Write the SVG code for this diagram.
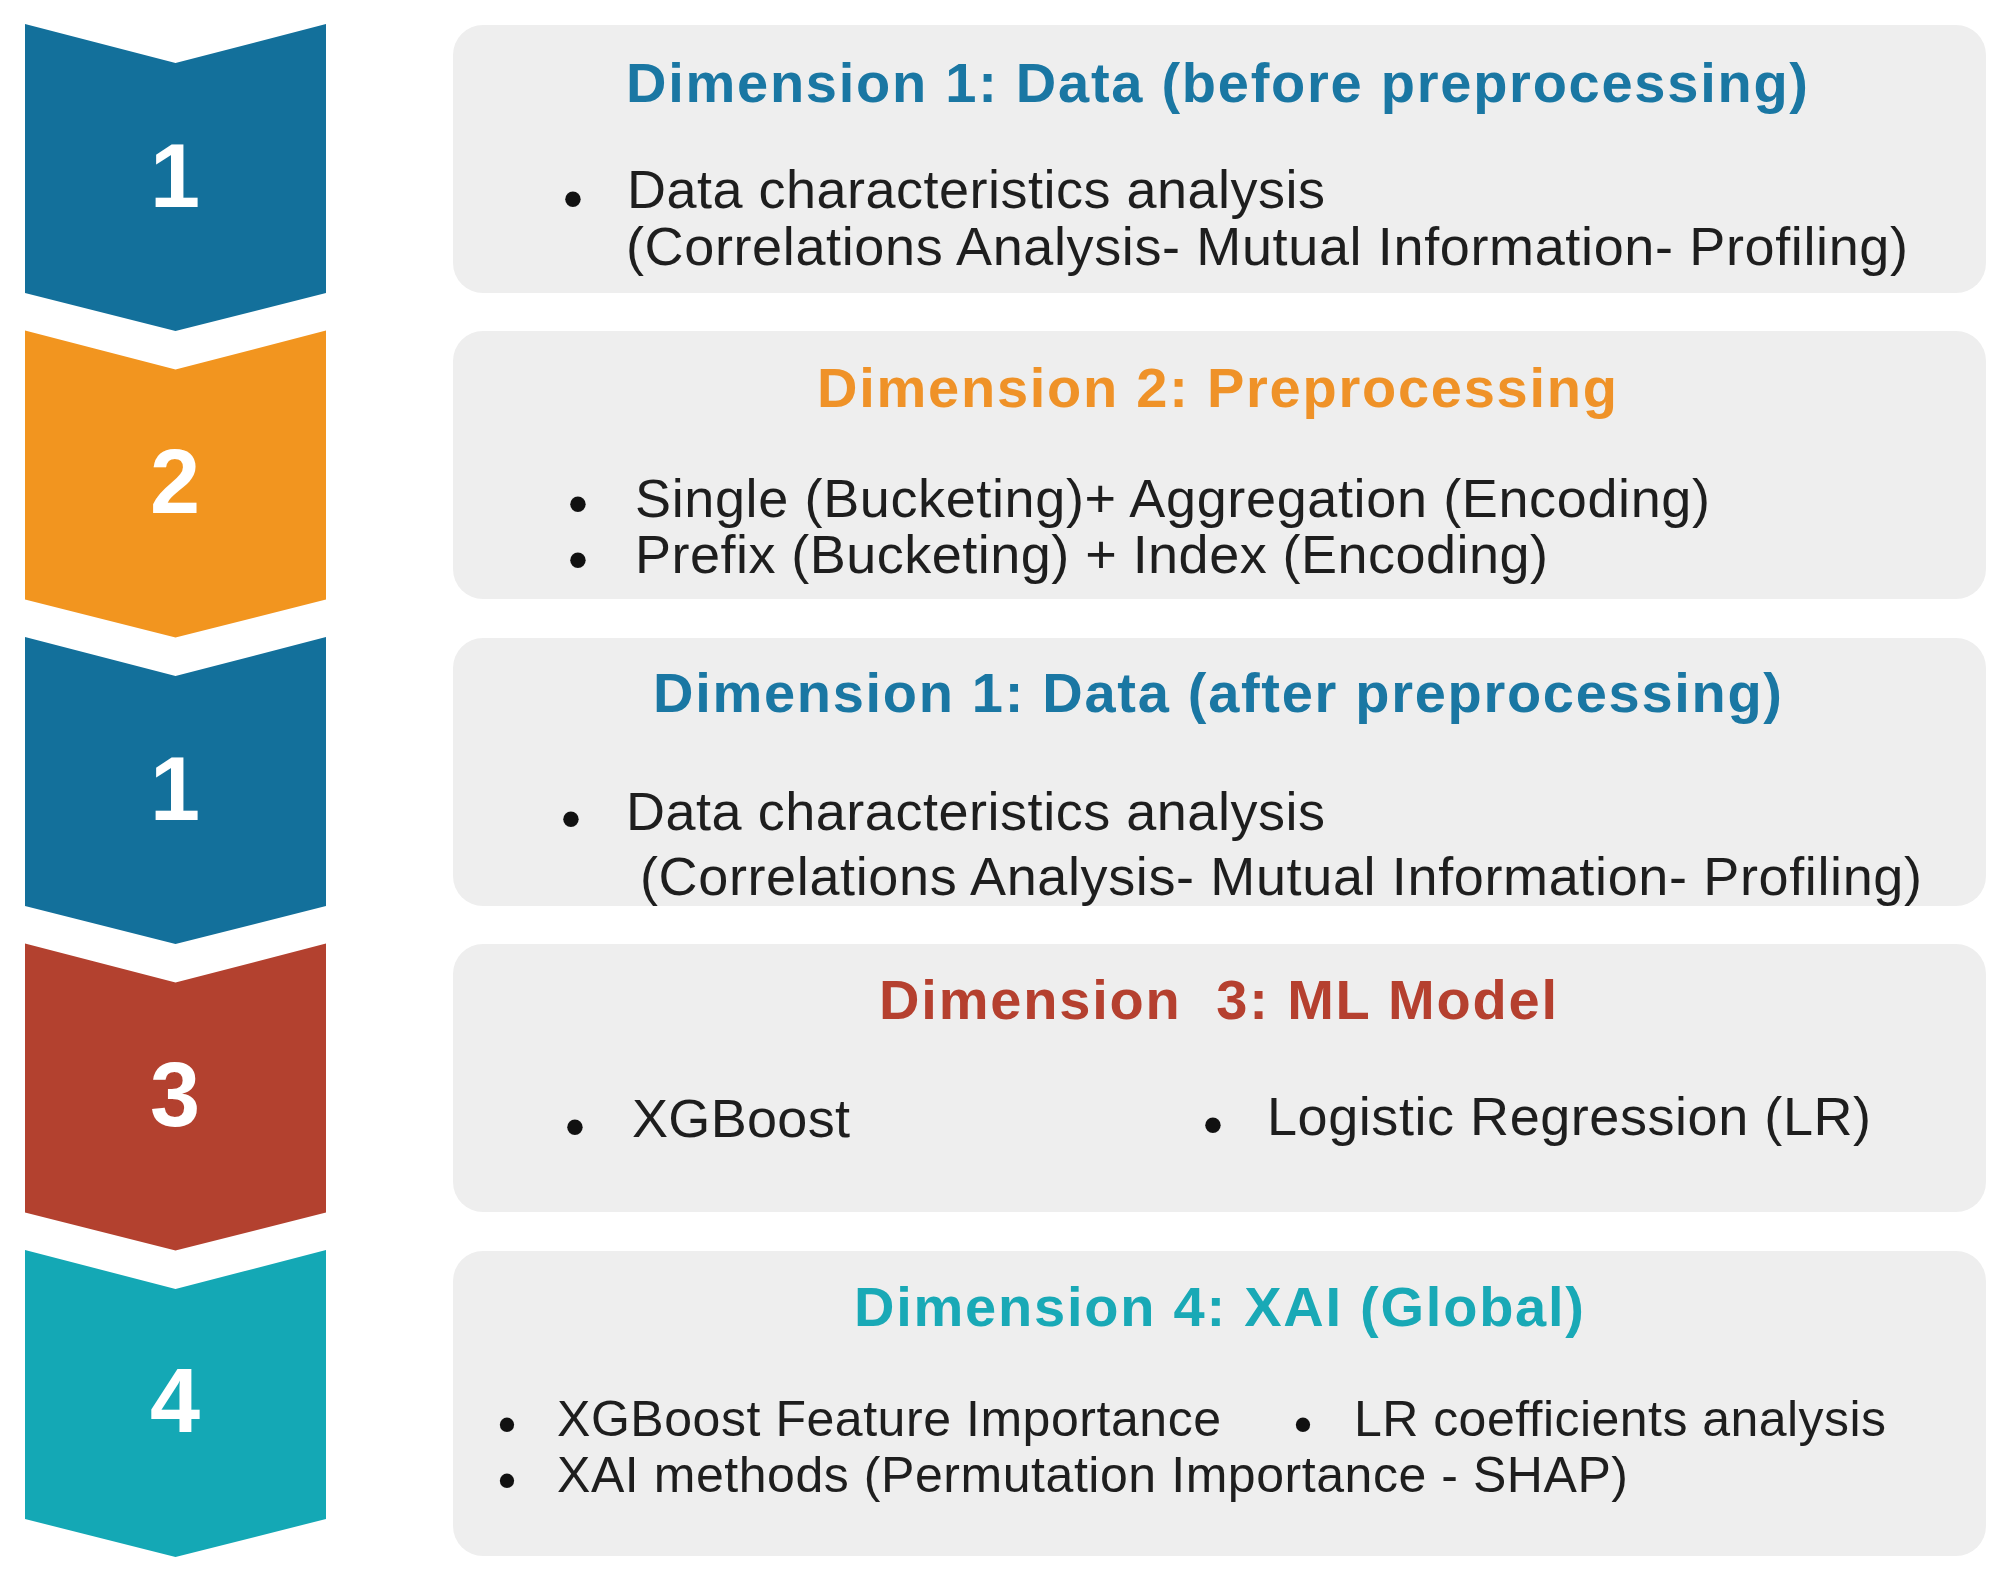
<svg xmlns="http://www.w3.org/2000/svg" width="2013" height="1581" viewBox="0 0 2013 1581">
<defs>
<style>
.box{fill:#eeeeee;}
.num{font-family:"Liberation Sans",Arial,sans-serif;font-weight:bold;font-size:90px;fill:#ffffff;text-anchor:middle;}
.ttl{font-family:"Liberation Sans",Arial,sans-serif;font-weight:bold;font-size:56px;}
.body{font-family:"Liberation Sans",Arial,sans-serif;font-size:54px;fill:#1e1e1e;}
.body5{font-family:"Liberation Sans",Arial,sans-serif;font-size:50px;fill:#1e1e1e;}
.bul{font-family:"Liberation Sans",Arial,sans-serif;font-weight:bold;font-size:54px;fill:#111111;text-anchor:middle;}
.bul5{font-family:"Liberation Sans",Arial,sans-serif;font-weight:bold;font-size:50px;fill:#111111;text-anchor:middle;}
.blue{fill:#13709b;}
.orange{fill:#f2951f;}
.red{fill:#b3412f;}
.teal{fill:#14a8b5;}
.tblue{fill:#1a77a3;}
.torange{fill:#ef9228;}
.tred{fill:#b5402f;}
.tteal{fill:#19a9b6;}
</style>
</defs>
<rect width="2013" height="1581" fill="#ffffff"/>

<g id="step1">
<path class="blue" d="M25,24 L175.5,63 L326,24 L326,293 L175.5,331 L25,293 Z"/>
<text class="num" x="175" y="207">1</text>
</g>
<g id="step2">
<path class="orange" d="M25,330.5 L175.5,369.5 L326,330.5 L326,599.5 L175.5,637.5 L25,599.5 Z"/>
<text class="num" x="175" y="513">2</text>
</g>
<g id="step3">
<path class="blue" d="M25,637 L175.5,676 L326,637 L326,906 L175.5,944 L25,906 Z"/>
<text class="num" x="175" y="820">1</text>
</g>
<g id="step4">
<path class="red" d="M25,943.5 L175.5,982.5 L326,943.5 L326,1212.5 L175.5,1250.5 L25,1212.5 Z"/>
<text class="num" x="175" y="1126">3</text>
</g>
<g id="step5">
<path class="teal" d="M25,1250 L175.5,1289 L326,1250 L326,1519 L175.5,1557 L25,1519 Z"/>
<text class="num" x="175" y="1432">4</text>
</g>

<g id="box1">
<rect class="box" x="453" y="25" width="1533" height="268" rx="30"/>
<text class="ttl tblue" x="626" y="102" textLength="1182" lengthAdjust="spacing">Dimension 1: Data (before preprocessing)</text>
<text class="bul" x="573" y="217">•</text>
<text class="body" x="627" y="208" textLength="698" lengthAdjust="spacing">Data characteristics analysis</text>
<text class="body" x="626" y="265" textLength="1282" lengthAdjust="spacing">(Correlations Analysis- Mutual Information- Profiling)</text>
</g>

<g id="box2">
<rect class="box" x="453" y="331" width="1533" height="268" rx="30"/>
<text class="ttl torange" x="817" y="407" textLength="800" lengthAdjust="spacing">Dimension 2: Preprocessing</text>
<text class="bul" x="578" y="522">•</text>
<text class="body" x="635" y="517" textLength="1075" lengthAdjust="spacing">Single (Bucketing)+ Aggregation (Encoding)</text>
<text class="bul" x="578" y="578">•</text>
<text class="body" x="635" y="573" textLength="913" lengthAdjust="spacing">Prefix (Bucketing) + Index (Encoding)</text>
</g>

<g id="box3">
<rect class="box" x="453" y="638" width="1533" height="268" rx="30"/>
<text class="ttl tblue" x="653" y="712" textLength="1129" lengthAdjust="spacing">Dimension 1: Data (after preprocessing)</text>
<text class="bul" x="571" y="837">•</text>
<text class="body" x="626" y="830" textLength="699" lengthAdjust="spacing">Data characteristics analysis</text>
<text class="body" x="640" y="895" textLength="1282" lengthAdjust="spacing">(Correlations Analysis- Mutual Information- Profiling)</text>
</g>

<g id="box4">
<rect class="box" x="453" y="944" width="1533" height="268" rx="30"/>
<text class="ttl tred" x="879" y="1019" textLength="678" lengthAdjust="spacing" xml:space="preserve">Dimension  3: ML Model</text>
<text class="bul" x="575" y="1145">•</text>
<text class="body" x="632" y="1137" textLength="218" lengthAdjust="spacing">XGBoost</text>
<text class="bul" x="1213" y="1143">•</text>
<text class="body" x="1267" y="1135" textLength="604" lengthAdjust="spacing">Logistic Regression (LR)</text>
</g>

<g id="box5">
<rect class="box" x="453" y="1251" width="1533" height="305" rx="30"/>
<text class="ttl tteal" x="854" y="1326" textLength="730" lengthAdjust="spacing">Dimension 4: XAI (Global)</text>
<text class="bul5" x="507" y="1441">•</text>
<text class="body5" x="557" y="1436" textLength="664" lengthAdjust="spacing">XGBoost Feature Importance</text>
<text class="bul5" x="1303" y="1441">•</text>
<text class="body5" x="1354" y="1436" textLength="532" lengthAdjust="spacing">LR coefficients analysis</text>
<text class="bul5" x="507" y="1497">•</text>
<text class="body5" x="557" y="1492" textLength="1071" lengthAdjust="spacing">XAI methods (Permutation Importance - SHAP)</text>
</g>

<g id="connectors"></g>
</svg>
